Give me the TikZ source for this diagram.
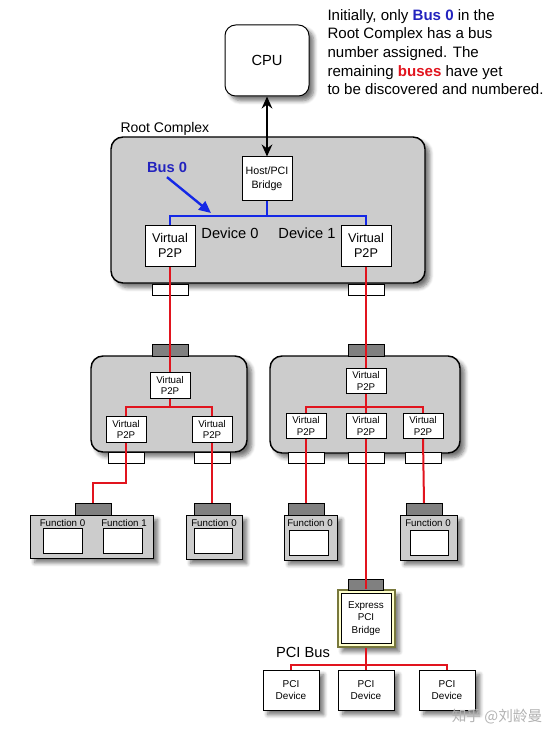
\documentclass[tikz,border=0pt]{standalone}
\usepackage{fontspec}
\setmainfont{Liberation Sans}
\newfontfamily\cjkfont{Noto Sans CJK SC}
\usetikzlibrary{arrows.meta,shadows.blur}

\definecolor{busblue}{RGB}{20,40,230}
\definecolor{lblblue}{RGB}{35,35,190}
\definecolor{linkred}{RGB}{225,20,30}
\definecolor{boxgray}{RGB}{204,204,204}
\definecolor{portgray}{RGB}{128,128,128}
\definecolor{bridgefill}{RGB}{255,255,204}
\definecolor{bridgeedge}{RGB}{120,120,60}

\tikzset{every picture/.style={line width=0.75pt}}
\tikzset{
	boxshadow/.style={blur shadow={shadow xshift=3.5pt,shadow yshift=-3.5pt,shadow blur radius=3pt,shadow blur steps=6,shadow opacity=55}},
	cpubox/.style={draw,fill=white,rounded corners=8pt,minimum width=63pt,minimum height=53.25pt,boxshadow,font=\fontsize{11}{13}\selectfont},
	groupbox/.style={draw,fill=boxgray,rounded corners=9pt,line width=1.1pt,boxshadow},
	p2pbox/.style={draw,fill=white,inner sep=0pt,align=center},
	bigp2p/.style={p2pbox,minimum width=37.5pt,minimum height=30.75pt,font=\fontsize{9.5}{11}\selectfont},
	smallp2p/.style={p2pbox,minimum width=30pt,minimum height=19pt,font=\fontsize{7.3}{8.6}\selectfont},
	portup/.style={draw,fill=portgray,inner sep=0pt,minimum width=27pt,minimum height=9pt},
	portdown/.style={draw,fill=white,inner sep=0pt,minimum width=27pt,minimum height=8.25pt},
	epbox/.style={draw,fill=boxgray,inner sep=0pt,boxshadow},
	fnbox/.style={draw,fill=white,inner sep=0pt,minimum width=29.25pt,minimum height=18.75pt},
	fnlabel/.style={inner sep=0pt,font=\fontsize{7.3}{8}\selectfont},
	pcidev/.style={draw,fill=white,inner sep=0pt,align=center,minimum width=42pt,minimum height=30pt,boxshadow,font=\fontsize{7.5}{9}\selectfont},
	redlink/.style={draw=linkred,line width=1.5pt},
	buslink/.style={draw=busblue,line width=1.8pt},
	busarrow/.style={buslink,->,>={Triangle[length=9pt,width=8pt]}},
	hostlink/.style={line width=1.5pt,<->,>={Stealth[length=9pt,width=8pt]}},
}

\begin{document}
\begin{tikzpicture}[x=0.75pt,y=0.75pt,yscale=-1,xscale=1]
	\useasboundingbox (0,0) rectangle (557,731);

	% Text Node
	\draw (327,9) node [anchor=north west,inner sep=0pt,align=left,font=\fontsize{11.3}{13.9}\selectfont] (note) {Initially, only {\color{lblblue}\textbf{Bus 0}} in the\\Root Complex has a bus\\number assigned. The\\remaining {\color{linkred}\textbf{buses}} have yet\\to be discovered and numbered.};

	%Shape: Rectangle
	\node [cpubox] (cpu) at (267,60.5) {CPU};

	% Text Node
	\draw (120,129) node [anchor=west,inner sep=0pt,font=\fontsize{10.5}{12}\selectfont] (rclabel) {Root Complex};

	%Shape: Rectangle
	\node [groupbox,minimum width=235.5pt,minimum height=109.5pt] (rc) at (268,210) {};
	\node [groupbox,minimum width=117pt,minimum height=72pt] (swA) at (169,404) {};
	\node [groupbox,minimum width=142.5pt,minimum height=72.75pt] (swB) at (365,404.5) {};

	%Shape: Rectangle
	\node [epbox,minimum width=92.25pt,minimum height=32.25pt] (epA) at (91.5,536.5) {};
	\node [epbox,minimum width=42pt,minimum height=33pt] (epB) at (214,537) {};
	\node [epbox,minimum width=39.75pt,minimum height=33.75pt] (epC) at (310.5,537.5) {};
	\node [epbox,minimum width=42.75pt,minimum height=33.75pt] (epD) at (428.5,537.5) {};

	%Shape: Rectangle
	\node [draw=bridgeedge,fill=bridgefill,line width=1.5pt,minimum width=42.75pt,minimum height=42.75pt,boxshadow] (pcibr) at (366,618.5) {};
	\node [draw,fill=white,align=center,inner sep=0pt,minimum width=37.5pt,minimum height=37.5pt,font=\fontsize{7.4}{9.5}\selectfont] (pcibrin) at (366,618.5) {Express\\PCI\\Bridge};

	%Shape: Rectangle
	\node [pcidev] (pcid1) at (291,690) {PCI\\Device};
	\node [pcidev] (pcid2) at (366,690) {PCI\\Device};
	\node [pcidev] (pcid3) at (447,690) {PCI\\Device};

	%Ports
	\node [portdown] (rcportL) at (170,289.5) {};
	\node [portdown] (rcportR) at (366,289.5) {};
	\node [portup] (swAup) at (170,350) {};
	\node [portup] (swBup) at (366,350) {};
	\node [portdown] (swAdnL) at (126,457.5) {};
	\node [portdown] (swAdnR) at (212,457.5) {};
	\node [portdown] (swBdnL) at (306,458) {};
	\node [portdown] (swBdnM) at (366,458) {};
	\node [portdown] (swBdnR) at (423,458) {};
	\node [portup] (epAup) at (93,509) {};
	\node [portup] (epBup) at (212,509) {};
	\node [portup] (epCup) at (306,509.5) {};
	\node [portup] (epDup) at (424,509.5) {};
	\node [portup,minimum width=26.25pt,minimum height=8.25pt] (pcibrup) at (366,584.5) {};

	% Text Node
	\draw (230,233) node [font=\fontsize{11}{13}\selectfont] (dev0) {Device 0};
	\draw (307,233) node [font=\fontsize{11}{13}\selectfont] (dev1) {Device 1};

	%Shape: Rectangle
	\node [p2pbox,minimum width=37.5pt,minimum height=32.25pt,font=\fontsize{8}{10.5}\selectfont] (hostbr) at (267,178.5) {Host/PCI\\Bridge};
	\node [bigp2p] (rcL) at (170,245.5) {Virtual\\P2P};
	\node [bigp2p] (rcR) at (366,245.5) {Virtual\\P2P};
	\node [smallp2p] (swAtop) at (170,385.5) {Virtual\\P2P};
	\node [smallp2p] (swAl) at (126,429.5) {Virtual\\P2P};
	\node [smallp2p] (swAr) at (212,429.5) {Virtual\\P2P};
	\node [smallp2p] (swBtop) at (366,381) {Virtual\\P2P};
	\node [smallp2p] (swBl) at (306,426) {Virtual\\P2P};
	\node [smallp2p] (swBm) at (366,426) {Virtual\\P2P};
	\node [smallp2p] (swBr) at (423,426) {Virtual\\P2P};

	% Functions
	\draw (62.5,523) node [fnlabel] (fnA0lbl) {Function 0};
	\draw (124,523) node [fnlabel] (fnA1lbl) {Function 1};
	\draw (214,523) node [fnlabel] (fnB0lbl) {Function 0};
	\draw (310,523) node [fnlabel] (fnC0lbl) {Function 0};
	\draw (428,523) node [fnlabel] (fnD0lbl) {Function 0};
	\node [fnbox] (fnA0) at (62.5,540.5) {};
	\node [fnbox] (fnA1) at (122.5,540.5) {};
	\node [fnbox,minimum width=28.5pt] (fnB0) at (213,540.5) {};
	\node [fnbox] (fnC0) at (308.5,542.5) {};
	\node [fnbox,minimum width=28.5pt] (fnD0) at (429,542.5) {};

	%Bus coordinates
	\coordinate (bus0) at (267,216);
	\coordinate (busA) at (170,407);
	\coordinate (busB) at (366,407);
	\coordinate (kinkA) at (93,483);
	\coordinate (pcibus) at (366,665);
	\coordinate (bus0tip) at (211,213);

	%Straight Lines
	\draw [hostlink] (hostbr.north) -- (cpu.south);
	\draw [buslink] (hostbr.south) -- (bus0);
	\draw [buslink] (rcL.north) |- (bus0) -| (rcR.north);

	%Straight Lines
	\draw [redlink] (rcL.south) -- (swAtop.north);
	\draw [redlink] (rcR.south) -- (swBtop.north);
	\draw [redlink] (swAtop.south) -- (busA);
	\draw [redlink] (swAl.north) |- (busA) -| (swAr.north);
	\draw [redlink] (swBtop.south) -- (swBm.north);
	\draw [redlink] (swBl.north) |- (busB) -| (swBr.north);
	\draw [redlink] (swAl.south) |- (kinkA) -- (epAup.north);
	\draw [redlink] (swAr.south) -- (epBup.north);
	\draw [redlink] (swBl.south) -- (epCup.north);
	\draw [redlink] (swBr.south) -- (epDup.north);
	\draw [redlink] (swBm.south) -- (pcibr.north);
	\draw [redlink] (pcibr.south) -- (pcid2.north);
	\draw [redlink] (pcid1.north) |- (pcibus) -| (pcid3.north);

	% Text Node
	\draw (167,167) node [text=lblblue,font=\bfseries\fontsize{11}{13}\selectfont] (bus0lbl) {Bus 0};
	\draw [busarrow] (bus0lbl.south) -- (bus0tip);

	% Text Node
	\draw (303,652) node [font=\fontsize{11}{13}\selectfont] (pcibuslbl) {PCI Bus};

	% Text Node
	\draw (497,717) node [text=black!30,font=\cjkfont\fontsize{11}{13}\selectfont] (wmark) {知乎 @刘龄曼};

\end{tikzpicture}
\end{document}
